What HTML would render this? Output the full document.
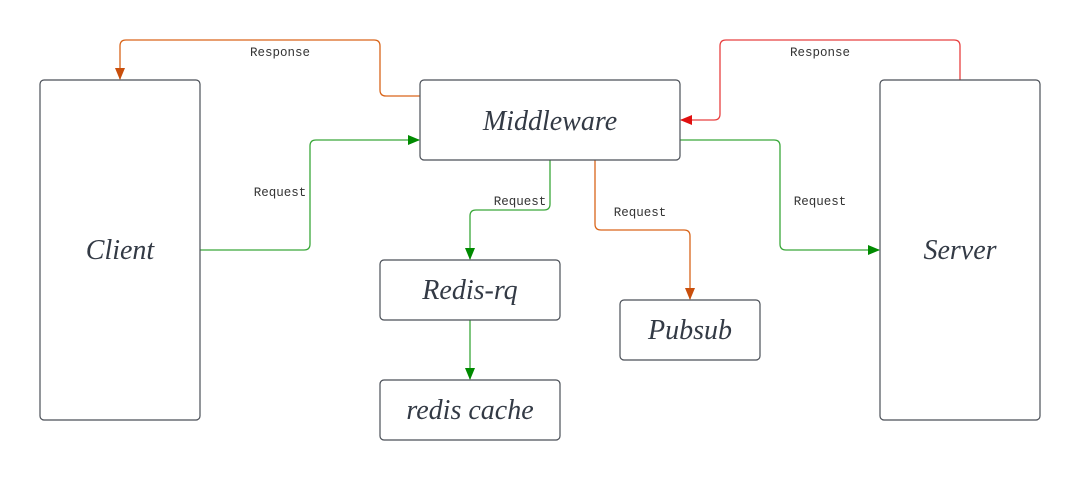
<!DOCTYPE html>
<html><head><meta charset="utf-8"><style>
html,body{margin:0;padding:0;background:#fff;width:1080px;height:481px;overflow:hidden}
</style></head><body>
<svg width="1080" height="481" viewBox="0 0 1080 481" xmlns="http://www.w3.org/2000/svg">
<defs>
<marker id="g" markerWidth="12" markerHeight="10" refX="11" refY="5" orient="auto" markerUnits="userSpaceOnUse"><path d="M0,0 L12,5 L0,10z" fill="#008a00"/></marker>
<marker id="o" markerWidth="12" markerHeight="10" refX="11" refY="5" orient="auto" markerUnits="userSpaceOnUse"><path d="M0,0 L12,5 L0,10z" fill="#c94f0c"/></marker>
<marker id="r" markerWidth="12" markerHeight="10" refX="11" refY="5" orient="auto" markerUnits="userSpaceOnUse"><path d="M0,0 L12,5 L0,10z" fill="#e01010"/></marker>
</defs>
<g fill="none" stroke-width="1.3">
<path d="M420,96 H386 Q380,96 380,90 V46 Q380,40 374,40 H126 Q120,40 120,46 V79" stroke="#d9651a" marker-end="url(#o)"/>
<path d="M960,80 V46 Q960,40 954,40 H726 Q720,40 720,46 V114 Q720,120 714,120 H681" stroke="#e84040" marker-end="url(#r)"/>
<path d="M200,250 H304 Q310,250 310,244 V146 Q310,140 316,140 H419" stroke="#3aa83a" marker-end="url(#g)"/>
<path d="M550,160 V204 Q550,210 544,210 H476 Q470,210 470,216 V259" stroke="#3aa83a" marker-end="url(#g)"/>
<path d="M595,160 V224 Q595,230 601,230 H684 Q690,230 690,236 V299" stroke="#d9651a" marker-end="url(#o)"/>
<path d="M680,140 H774 Q780,140 780,146 V244 Q780,250 786,250 H879" stroke="#3aa83a" marker-end="url(#g)"/>
<path d="M470,320 V379" stroke="#3aa83a" marker-end="url(#g)"/>
</g>
<g fill="#fff" stroke="#4a4f57" stroke-width="1.2">
<rect x="40" y="80" width="160" height="340" rx="4"/>
<rect x="420" y="80" width="260" height="80" rx="4"/>
<rect x="880" y="80" width="160" height="340" rx="4"/>
<rect x="380" y="260" width="180" height="60" rx="4"/>
<rect x="620" y="300" width="140" height="60" rx="4"/>
<rect x="380" y="380" width="180" height="60" rx="4"/>
</g>
<g font-family="Liberation Serif, serif" font-style="italic" font-size="28" fill="#333a45" text-anchor="middle">
<text x="120" y="259">Client</text>
<text x="550" y="130">Middleware</text>
<text x="960" y="259">Server</text>
<text x="470" y="299">Redis-rq</text>
<text x="690" y="339">Pubsub</text>
<text x="470" y="419">redis cache</text>
</g>
<g font-family="Liberation Mono, monospace" font-size="12.5" fill="#333" text-anchor="middle">
<text x="280" y="56">Response</text>
<text x="820" y="56">Response</text>
<text x="280" y="196">Request</text>
<text x="520" y="205">Request</text>
<text x="640" y="216">Request</text>
<text x="820" y="205">Request</text>
</g>
</svg>
</body></html>
